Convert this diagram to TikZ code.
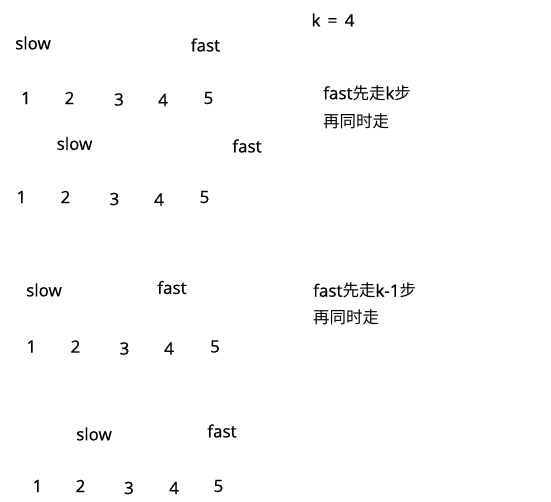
\documentclass[tikz,border=0pt]{standalone}
\usepackage{fontspec}
\setmainfont{Open Sans}[FakeBold=0.5]
\newfontfamily\cjk{Noto Sans CJK SC}[Scale=0.97]
\begin{document}
\begin{tikzpicture}[x=1pt,y=-1pt,
  lbl/.style={inner sep=0pt,font=\fontsize{17}{20}\selectfont},
  note/.style={lbl,anchor=west}]
\useasboundingbox (0,0) rectangle (551,502);
% header
\node[lbl] (k) at (333,20) {k\,\ =\ \,4};
% block 1
\node[lbl] (s1) at (33,43) {slow};
\node[lbl] (f1) at (205.5,45) {fast};
\node[lbl] (a1) at (26,98) {1};
\node[lbl] (a2) at (69.5,98) {2};
\node[lbl] (a3) at (119,99.5) {3};
\node[lbl] (a4) at (163,100) {4};
\node[lbl] (a5) at (208.5,98) {5};
\node[note] (n1) at (323,93) {fast{\cjk 先走}k{\cjk 步}};
\node[note] (n2) at (323,121) {\cjk 再同时走};
% block 2
\node[lbl] (s2) at (74.5,143.5) {slow};
\node[lbl] (f2) at (247,146) {fast};
\node[lbl] (b1) at (21.5,197) {1};
\node[lbl] (b2) at (65.5,197) {2};
\node[lbl] (b3) at (114.5,199) {3};
\node[lbl] (b4) at (159,199.5) {4};
\node[lbl] (b5) at (204.5,197) {5};
% block 3
\node[lbl] (s3) at (44,290) {slow};
\node[lbl] (f3) at (172,287.5) {fast};
\node[lbl] (c1) at (31.5,346.5) {1};
\node[lbl] (c2) at (75.5,346.5) {2};
\node[lbl] (c3) at (124.5,348.5) {3};
\node[lbl] (c4) at (169,348.5) {4};
\node[lbl] (c5) at (215,346.5) {5};
\node[note] (m1) at (313,290.5) {fast{\cjk 先走}k-1{\cjk 步}};
\node[note] (m2) at (313,317) {\cjk 再同时走};
% block 4
\node[lbl] (s4) at (94,434) {slow};
\node[lbl] (f4) at (222,431) {fast};
\node[lbl] (d1) at (37.5,486) {1};
\node[lbl] (d2) at (80.5,486) {2};
\node[lbl] (d3) at (129,488) {3};
\node[lbl] (d4) at (174,488) {4};
\node[lbl] (d5) at (218.5,486) {5};
\end{tikzpicture}
\end{document}
